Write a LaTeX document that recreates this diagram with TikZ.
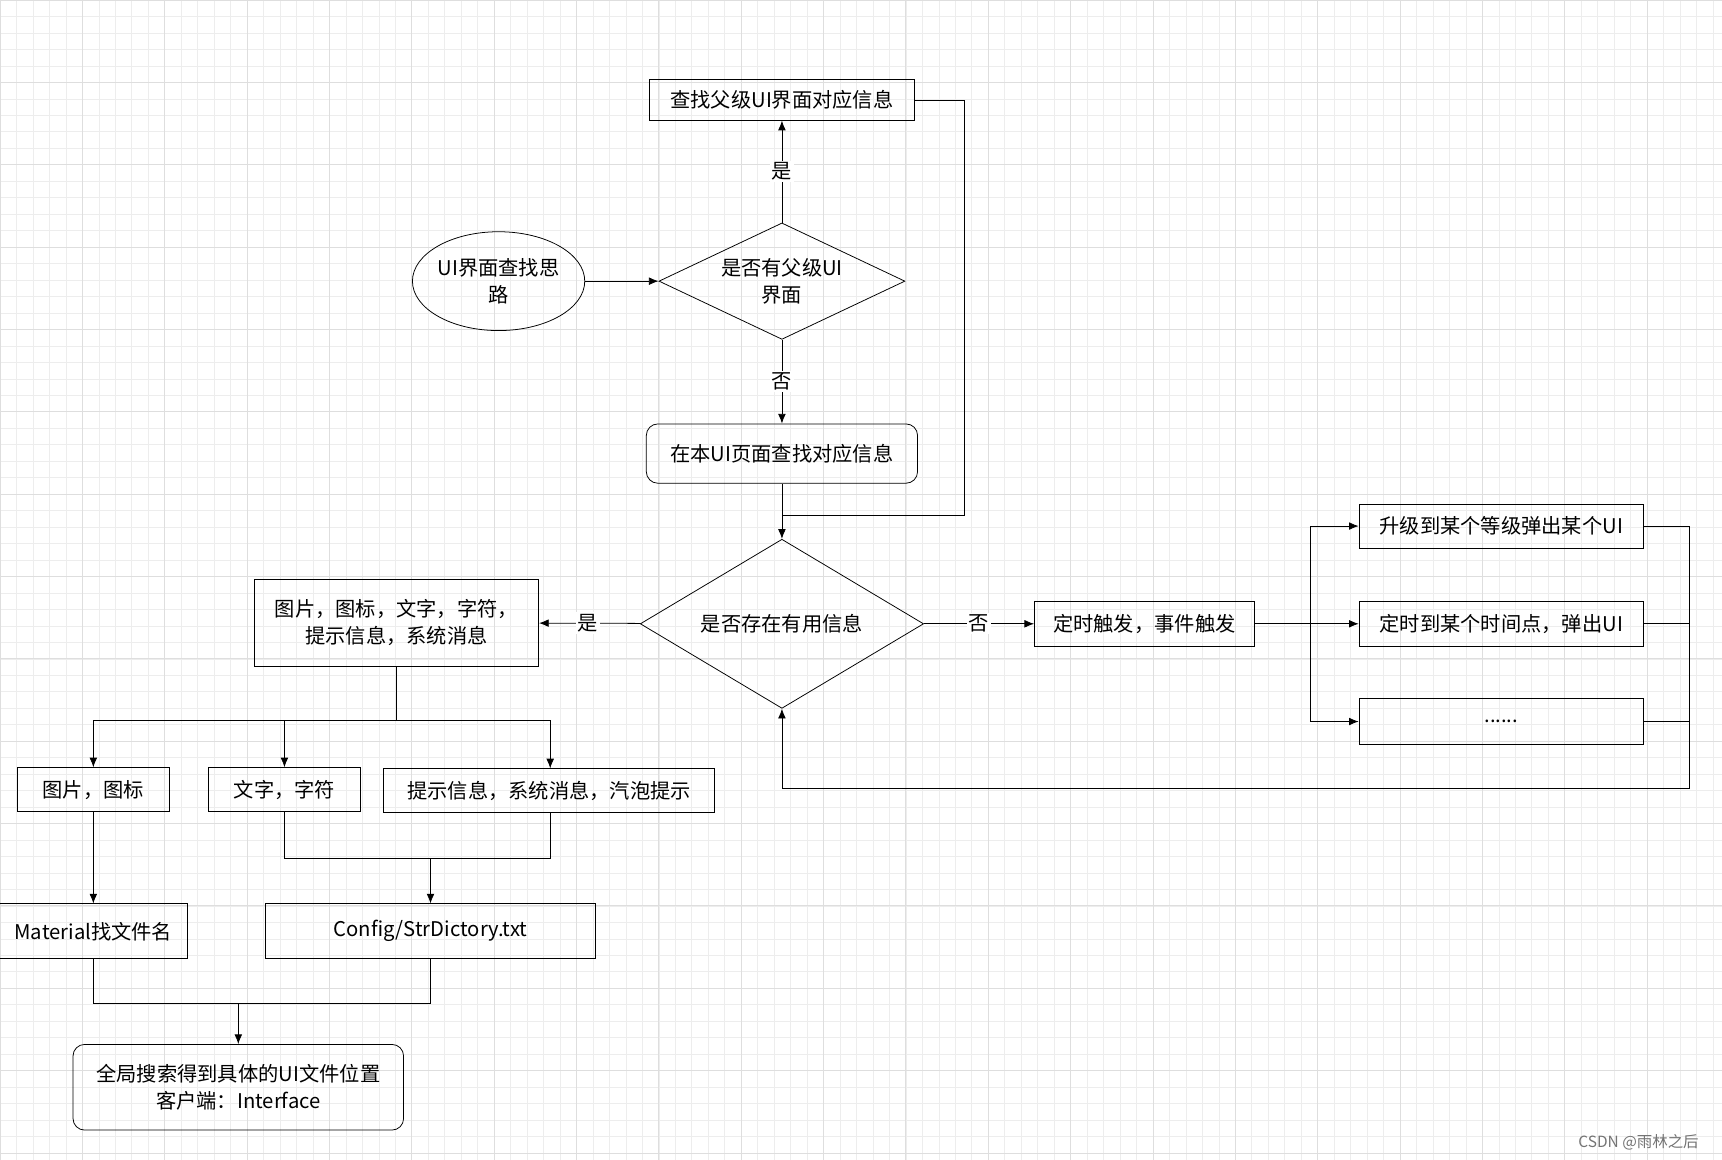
\documentclass[tikz,border=0pt]{standalone}
\usepackage{fontspec}
\setmainfont{Noto Sans CJK SC}
\usetikzlibrary{shapes.geometric,arrows.meta}
\begin{document}
\begin{tikzpicture}[x=0.02cm,y=-0.02cm,
  every node/.style={font=\fontsize{10.5}{14}\selectfont},
  box/.style={draw,thin,align=center,inner sep=0pt},
  dia/.style={draw,thin,diamond,aspect=2,align=center,inner sep=0pt},
  arr/.style={-{Latex[length=5pt,width=4pt]},thin},
  ln/.style={thin},
  lab/.style={fill=white,inner sep=1pt}]
\useasboundingbox (0,0) rectangle (1568,1056);
\fill[white] (0,0) rectangle (1568,1056);
\draw[black!7,line width=0.3pt,step=0.3cm] (0,0) grid (1568,1056);
\draw[black!13,line width=0.4pt,step=1.5cm] (0,0) grid (1568,1056);

\node[box,minimum width=241*0.02cm,minimum height=37*0.02cm] (top) at (712,91) {查找父级UI界面对应信息};
\node[draw,thin,ellipse,minimum width=152*0.02cm,minimum height=90*0.02cm,align=center,inner sep=0pt] (start) at (454,256) {UI界面查找思\\路};
\node[dia,minimum width=224*0.02cm,minimum height=106*0.02cm] (d1) at (712,256) {是否有父级UI\\界面};
\node[box,rounded corners=6pt,minimum width=247*0.02cm,minimum height=54*0.02cm] (self) at (712,413) {在本UI页面查找对应信息};
\node[dia,minimum width=258*0.02cm,minimum height=154*0.02cm] (d2) at (712,568) {是否存在有用信息};
\node[box,minimum width=259*0.02cm,minimum height=79*0.02cm] (info) at (361,567) {图片，图标，文字，字符，\\提示信息，系统消息};
\node[box,minimum width=200*0.02cm,minimum height=41*0.02cm] (trig) at (1042,568) {定时触发，事件触发};
\node[box,minimum width=259*0.02cm,minimum height=40*0.02cm] (up) at (1367,479) {升级到某个等级弹出某个UI};
\node[box,minimum width=259*0.02cm,minimum height=41*0.02cm] (time) at (1367,568) {定时到某个时间点，弹出UI};
\node[box,minimum width=259*0.02cm,minimum height=42*0.02cm] (more) at (1367,657) {......};
\node[box,minimum width=139*0.02cm,minimum height=40*0.02cm] (pic) at (85,719) {图片，图标};
\node[box,minimum width=139*0.02cm,minimum height=40*0.02cm] (txt) at (259,719) {文字，字符};
\node[box,minimum width=301*0.02cm,minimum height=40*0.02cm] (tip) at (500,720) {提示信息，系统消息，汽泡提示};
\node[box,minimum width=171*0.02cm,minimum height=50*0.02cm] (mat) at (85,848) {Material找文件名};
\node[box,minimum width=301*0.02cm,minimum height=50*0.02cm] (cfg) at (392,848) {Config/StrDictory.txt};
\node[box,rounded corners=6pt,minimum width=301*0.02cm,minimum height=78*0.02cm] (fin) at (217,990) {全局搜索得到具体的UI文件位置\\客户端：Interface};
\node[text=black!55,font=\fontsize{8}{10}\selectfont] (wm) at (1492,1040) {CSDN @雨林之后};

\coordinate (j1) at (712,469);
\coordinate (r1) at (878,91);
\coordinate (r2) at (878,469);
\coordinate (b1) at (1193,568);
\coordinate (b2) at (1193,479);
\coordinate (b3) at (1193,657);
\coordinate (e1) at (1538,479);
\coordinate (e2) at (1538,718);
\coordinate (e3) at (712,718);
\coordinate (s1) at (361,656);
\coordinate (s2) at (85,656);
\coordinate (s3) at (501,656);
\coordinate (s4) at (259,656);
\coordinate (m1) at (259,782);
\coordinate (m2) at (501,782);
\coordinate (m3) at (392,782);
\coordinate (n1) at (85,914);
\coordinate (n2) at (392,914);
\coordinate (n3) at (217,914);

\draw[arr] (start) -- (d1);
\draw[arr] (d1) -- node[lab]{是} (top);
\draw[arr] (d1) -- node[lab]{否} (self);
\draw[arr] (self) -- (d2);
\draw[ln] (top.east) -- (r1) -- (r2) -- (j1);
\draw[arr] (d2) -- node[lab,pos=0.52]{是} (info);
\draw[arr] (d2) -- node[lab,pos=0.5]{否} (trig);
\draw[ln] (trig) -- (b1);
\draw[arr] (b1) -- (time);
\draw[arr] (b1) -- (b2) -- (up);
\draw[arr] (b1) -- (b3) -- (more);
\draw[ln] (up) -- (e1) -- (e2);
\draw[ln] (time.east) -- (time.east -| e1);
\draw[ln] (more.east) -- (more.east -| e1);
\draw[arr] (e2) -- (e3) -- (d2.south);
\draw[ln] (info) -- (s1);
\draw[ln] (s2) -- (s3);
\draw[arr] (s2) -- (pic);
\draw[arr] (s4) -- (txt);
\draw[arr] (s3) -- (tip.north -| s3);
\draw[arr] (pic) -- (mat);
\draw[ln] (txt) -- (m1) -- (m2) -- (tip.south -| m2);
\draw[arr] (m3) -- (cfg);
\draw[ln] (mat) -- (n1) -- (n2) -- (cfg);
\draw[arr] (n3) -- (fin);
\end{tikzpicture}
\end{document}
